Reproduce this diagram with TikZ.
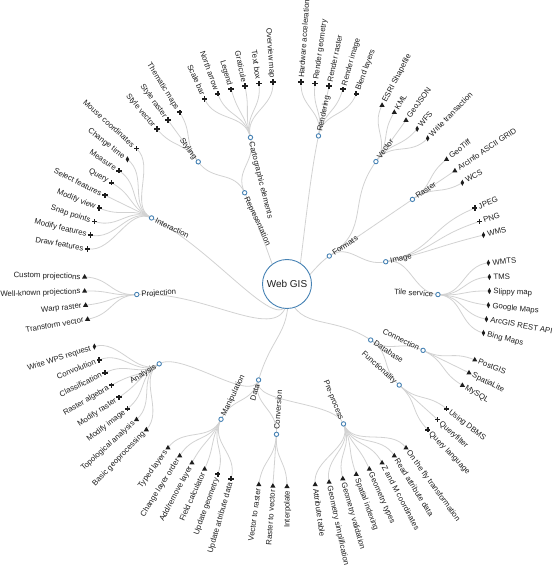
\documentclass[tikz,border=0pt]{standalone}
\usepackage{fontspec}
\setmainfont{Liberation Sans}
\usepackage{tikz}
\usetikzlibrary{calc, backgrounds}
\definecolor{gisBlue}{RGB}{70, 130, 180}
\definecolor{gisLink}{RGB}{210, 210, 210}
\definecolor{gisText}{RGB}{30, 30, 30}
\tikzset{
    base/.style={
        font=\fontsize{7.8}{9}\selectfont,
        text=gisText,
        inner ysep=0pt
    },
    rootnode/.style={
        circle,
        draw=gisBlue,
        line width=0.9pt,
        fill=white,
        minimum size=49pt,
        inner sep=0pt,
        font=\fontsize{10}{12}\selectfont,
        text=gisText
    },
    hub/.style={
        circle,
        draw=gisBlue,
        line width=0.9pt,
        fill=white,
        minimum size=4.4pt,
        inner sep=0pt
    },
    branchline/.style={
        draw=gisLink,
        line width=0.8pt
    },
    outR/.style={base, inner xsep=4.5pt, rotate=#1, anchor=mid west},
    outL/.style={base, inner xsep=4.5pt, rotate=#1+180, anchor=mid east},
    inR/.style={base, inner xsep=4.5pt, rotate=#1, anchor=mid east},
    inL/.style={base, inner xsep=4.5pt, rotate=#1+180, anchor=mid west},
    leafR/.style={base, inner xsep=4pt, rotate=#1, anchor=mid west},
    leafL/.style={base, inner xsep=4pt, rotate=#1+180, anchor=mid east},
    plusmark/.pic={
        \fill[gisText] (-2.7,-0.85) rectangle (2.7,0.85);
        \fill[gisText] (-0.85,-2.7) rectangle (0.85,2.7);
    },
    trimark/.pic={
        \fill[gisText] (0,2.9) -- (-2.6,-1.6) -- (2.6,-1.6) -- cycle;
    },
    diamark/.pic={
        \fill[gisText] (0,3.1) -- (1.7,0) -- (0,-3.1) -- (-1.7,0) -- cycle;
    }
}
% polar position of every node, seen from the root
\newcommand{\storepos}[3]{%
  \expandafter\xdef\csname ang-#1\endcsname{#2}%
  \expandafter\xdef\csname rad-#1\endcsname{#3}}
% radial link from parent to child
\newcommand{\treelink}[2]{%
  \edef\angA{\csname ang-#1\endcsname}\edef\radA{\csname rad-#1\endcsname}%
  \edef\angB{\csname ang-#2\endcsname}\edef\radB{\csname rad-#2\endcsname}%
  \pgfmathsetmacro\radM{(\radA+\radB)/2}%
  \begin{pgfonlayer}{background}
    \draw[branchline] (#1.center) .. controls ($(root)+(\angA:\radM)$) and ($(root)+(\angB:\radM)$) .. (#2.center);
  \end{pgfonlayer}}
% parent, name, angle, radius, label style, text
\newcommand{\addhub}[6]{%
  \node[hub] (#2) at ($(root)+(#3:#4)$) {};
  \storepos{#2}{#3}{#4}%
  \node[#5=#3] (#2-text) at (#2.center) {#6};
  \treelink{#1}{#2}}
% parent, name, angle, marker, text
\newcommand{\addleaf}[5]{%
  \coordinate (#2) at ($(root)+(#3:202.5)$);
  \storepos{#2}{#3}{202.5}%
  \pic at (#2) {#4};
  \pgfmathtruncatemacro\leafside{(#3>-90 && #3<90) ? 1 : 0}%
  \ifnum\leafside=1
    \node[leafR=#3] (#2-text) at (#2) {#5};
  \else
    \node[leafL=#3] (#2-text) at (#2) {#5};
  \fi
  \treelink{#1}{#2}}
\begin{document}
\begin{tikzpicture}[x=1pt, y=1pt]
  \useasboundingbox (0,0) rectangle (553,566);

  % Root
  \node[rootnode] (root) at (287,282) {Web GIS};
  \storepos{root}{-83.5}{0}

  % Branches
  \addhub{root}{formats}{33.5}{50.7}{outR}{Formats}
  \addhub{formats}{vector}{54}{151.3}{outR}{Vector}
  \addhub{formats}{raster}{34}{151.3}{outR}{Raster}
  \addhub{formats}{image}{12.7}{101.2}{outR}{Image}
  \addhub{image}{tileservice}{-4}{151.3}{inR}{Tile service}
  \addhub{root}{rendering}{78}{151.4}{outR}{Rendering}
  \addhub{root}{representation}{114.9}{100.6}{inL}{Representation}
  \addhub{representation}{cartographic}{104}{151}{inL}{Cartographic elements}
  \addhub{representation}{styling}{126}{151}{outL}{Styling}
  \addhub{root}{interaction}{154}{150.7}{inL}{Interaction}
  \addhub{root}{projection}{-176}{150.6}{inL}{Projection}
  \addhub{root}{data}{-106.5}{100.1}{outL}{Data}
  \addhub{data}{analysis}{-148}{150.7}{outL}{Analysis}
  \addhub{data}{manipulation}{-116}{150.5}{inL}{Manipulation}
  \addhub{data}{conversion}{-94}{150.7}{inL}{Conversion}
  \addhub{data}{preprocess}{-68}{150.9}{inR}{Pre-process}
  \addhub{root}{database}{-33.8}{100.7}{outR}{Database}
  \addhub{database}{connection}{-26}{151.4}{inR}{Connection}
  \addhub{database}{functionality}{-42}{151}{inR}{Functionality}

  % Cartographic elements
  \addleaf{cartographic}{scalebar}{114}{plusmark}{Scale bar}
  \addleaf{cartographic}{northarrow}{110}{plusmark}{North arrow}
  \addleaf{cartographic}{legend}{106}{plusmark}{Legend}
  \addleaf{cartographic}{graticule}{102}{plusmark}{Graticule}
  \addleaf{cartographic}{textbox}{98}{plusmark}{Text box}
  \addleaf{cartographic}{overviewmap}{94}{plusmark}{Overview map}

  % Rendering
  \addleaf{rendering}{hwaccel}{86}{plusmark}{Hardware acceleration}
  \addleaf{rendering}{rendergeom}{82}{plusmark}{Render geometry}
  \addleaf{rendering}{renderraster}{78}{plusmark}{Render raster}
  \addleaf{rendering}{renderimage}{74}{plusmark}{Render image}
  \addleaf{rendering}{blendlayers}{70}{plusmark}{Blend layers}

  % Vector
  \addleaf{vector}{shapefile}{62}{trimark}{ESRI Shapefile}
  \addleaf{vector}{kml}{58}{trimark}{KML}
  \addleaf{vector}{geojson}{54}{trimark}{GeoJSON}
  \addleaf{vector}{wfs}{50}{diamark}{WFS}
  \addleaf{vector}{writetrans}{46}{diamark}{Write transaction}

  % Raster
  \addleaf{raster}{geotiff}{38}{trimark}{GeoTiff}
  \addleaf{raster}{arcgrid}{34}{trimark}{ArcInfo ASCII GRID}
  \addleaf{raster}{wcs}{30}{diamark}{WCS}

  % Image
  \addleaf{image}{jpeg}{22}{plusmark}{JPEG}
  \addleaf{image}{png}{18}{plusmark}{PNG}
  \addleaf{image}{wms}{14}{diamark}{WMS}

  % Tile service
  \addleaf{tileservice}{wmts}{6}{diamark}{WMTS}
  \addleaf{tileservice}{tms}{2}{diamark}{TMS}
  \addleaf{tileservice}{slippy}{-2}{diamark}{Slippy map}
  \addleaf{tileservice}{googlemaps}{-6}{diamark}{Google Maps}
  \addleaf{tileservice}{arcgisrest}{-10}{diamark}{ArcGIS REST API}
  \addleaf{tileservice}{bingmaps}{-14}{diamark}{Bing Maps}

  % Connection
  \addleaf{connection}{postgis}{-22}{trimark}{PostGIS}
  \addleaf{connection}{spatialite}{-26}{trimark}{SpatiaLite}
  \addleaf{connection}{mysql}{-30}{trimark}{MySQL}

  % Functionality
  \addleaf{functionality}{usingdbms}{-38}{plusmark}{Using DBMS}
  \addleaf{functionality}{queryfilter}{-42}{plusmark}{Queryfilter}
  \addleaf{functionality}{querylang}{-46}{plusmark}{Query language}

  % Pre-process
  \addleaf{preprocess}{onthefly}{-54}{trimark}{On the fly transformation}
  \addleaf{preprocess}{readattr}{-58}{trimark}{Read attribute data}
  \addleaf{preprocess}{zmcoords}{-62}{trimark}{Z and M coordinates}
  \addleaf{preprocess}{geomtypes}{-66}{trimark}{Geometry types}
  \addleaf{preprocess}{spatialidx}{-70}{trimark}{Spatial indexing}
  \addleaf{preprocess}{geomvalid}{-74}{trimark}{Geometry validation}
  \addleaf{preprocess}{geomsimpl}{-78}{trimark}{Geometry simplification}
  \addleaf{preprocess}{attrtable}{-82}{trimark}{Attribute table}

  % Conversion
  \addleaf{conversion}{interpolate}{-90}{trimark}{Interpolate}
  \addleaf{conversion}{rastertovec}{-94}{trimark}{Raster to vector}
  \addleaf{conversion}{vectoras}{-98}{trimark}{Vector to raster}

  % Manipulation
  \addleaf{manipulation}{updateattr}{-106}{plusmark}{Update attribute data}
  \addleaf{manipulation}{updategeom}{-110}{plusmark}{Update geometry}
  \addleaf{manipulation}{fieldcalc}{-114}{trimark}{Field calculator}
  \addleaf{manipulation}{addremove}{-118}{trimark}{Add/remove layer}
  \addleaf{manipulation}{layerorder}{-122}{trimark}{Change layer order}
  \addleaf{manipulation}{typedlayers}{-126}{trimark}{Typed layers}

  % Analysis
  \addleaf{analysis}{basicgeo}{-134}{trimark}{Basic geoprocessing}
  \addleaf{analysis}{topology}{-138}{trimark}{Topological analysis}
  \addleaf{analysis}{modifyimage}{-142}{plusmark}{Modify image}
  \addleaf{analysis}{modifyraster}{-146}{plusmark}{Modify raster}
  \addleaf{analysis}{rasteralg}{-150}{plusmark}{Raster algebra}
  \addleaf{analysis}{classification}{-154}{plusmark}{Classification}
  \addleaf{analysis}{convolution}{-158}{plusmark}{Convolution}
  \addleaf{analysis}{wps}{-162}{diamark}{Write WPS request}

  % Projection
  \addleaf{projection}{transformvec}{-170}{trimark}{Transform vector}
  \addleaf{projection}{warpraster}{-174}{trimark}{Warp raster}
  \addleaf{projection}{wellknown}{-178}{trimark}{Well-known projections}
  \addleaf{projection}{customproj}{178}{trimark}{Custom projections}

  % Interaction
  \addleaf{interaction}{drawfeat}{170}{plusmark}{Draw features}
  \addleaf{interaction}{modifyfeat}{166}{plusmark}{Modify features}
  \addleaf{interaction}{snappoints}{162}{plusmark}{Snap points}
  \addleaf{interaction}{modifyview}{158}{plusmark}{Modify view}
  \addleaf{interaction}{selectfeat}{154}{plusmark}{Select features}
  \addleaf{interaction}{query}{150}{plusmark}{Query}
  \addleaf{interaction}{measure}{146}{plusmark}{Measure}
  \addleaf{interaction}{changetime}{142}{diamark}{Change time}
  \addleaf{interaction}{mousecoords}{138}{plusmark}{Mouse coordinates}

  % Styling
  \addleaf{styling}{stylevector}{130}{plusmark}{Style vector}
  \addleaf{styling}{styleraster}{126}{plusmark}{Style raster}
  \addleaf{styling}{thematic}{122}{plusmark}{Thematic maps}
\end{tikzpicture}
\end{document}
